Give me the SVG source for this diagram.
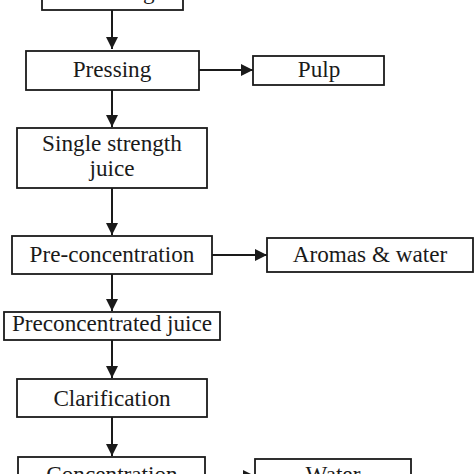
<svg xmlns="http://www.w3.org/2000/svg" width="474" height="474" viewBox="0 0 474 474">
<style>
.box{fill:#fff;stroke:#1a1a1a;stroke-width:1.8}
.t{font-family:"Liberation Serif","Times New Roman",serif;font-size:23.2px;fill:#1a1a1a;text-anchor:middle}
.c{stroke:#1a1a1a;stroke-width:2;fill:none;marker-end:url(#ah)}
</style>
<defs>
<marker id="ah" markerUnits="userSpaceOnUse" markerWidth="12" markerHeight="12" viewBox="0 0 12 12" refX="12" refY="6" orient="auto">
<path d="M0,0 L12,6 L0,12 Z" fill="#1a1a1a"/>
</marker>
</defs>
<rect width="474" height="474" fill="#fff"/>
<g id="connectors">
<line class="c" x1="112" y1="10" x2="112" y2="49"/>
<line class="c" x1="112" y1="90" x2="112" y2="127"/>
<line class="c" x1="112" y1="188" x2="112" y2="235"/>
<line class="c" x1="112" y1="274" x2="112" y2="311"/>
<line class="c" x1="112" y1="340" x2="112" y2="378"/>
<line class="c" x1="112" y1="417" x2="112" y2="456"/>
<line class="c" x1="199" y1="70" x2="253" y2="70"/>
<line class="c" x1="212" y1="255" x2="267" y2="255"/>
<line class="c" x1="205" y1="476" x2="255" y2="476"/>
</g>
<g id="crushing"><rect class="box" x="42" y="-20" width="141" height="30"/><text class="t" x="112" y="-1">Crushing</text></g>
<g id="pressing"><rect class="box" x="26" y="51" width="173" height="39"/><text class="t" x="112" y="77">Pressing</text></g>
<g id="pulp"><rect class="box" x="253" y="56" width="131" height="29"/><text class="t" x="319" y="77">Pulp</text></g>
<g id="single"><rect class="box" x="17" y="128" width="190" height="60"/><text class="t" x="112" y="151">Single strength</text><text class="t" x="112" y="176">juice</text></g>
<g id="preconc"><rect class="box" x="12" y="236" width="200" height="38"/><text class="t" x="112" y="262">Pre-concentration</text></g>
<g id="aromas"><rect class="box" x="267" y="238" width="206" height="34"/><text class="t" x="370" y="262">Aromas &amp; water</text></g>
<g id="prejuice"><rect class="box" x="4" y="312" width="216" height="28"/><text class="t" x="112" y="331">Preconcentrated juice</text></g>
<g id="clarification"><rect class="box" x="17" y="379" width="190" height="38"/><text class="t" x="112" y="406">Clarification</text></g>
<g id="concentration"><rect class="box" x="18" y="457" width="187" height="30"/><text class="t" x="112" y="482">Concentration</text></g>
<g id="water"><rect class="box" x="255" y="459" width="156" height="30"/><text class="t" x="333" y="482">Water</text></g>
</svg>
